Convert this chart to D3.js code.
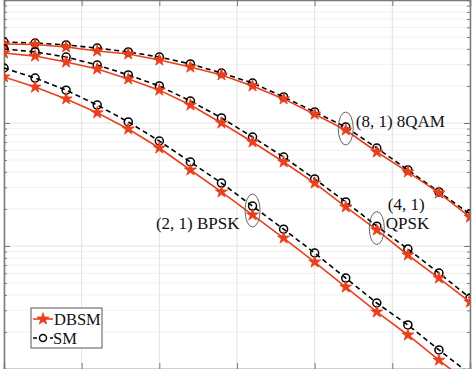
<!DOCTYPE html>
<html><head><meta charset="utf-8">
<script src="https://cdn.jsdelivr.net/npm/d3@7"></script>
<style>html,body{margin:0;padding:0;background:#fff;}svg{display:block;}</style>
</head><body>
<script>
const snr = [0,2,4,6,8,10,12,14,16,18,20,22,24,26,28,30];
const xTicks = [0,5,10,15,20,25,30];
const qam8_DBSM = [0.439,0.435,0.415,0.385,0.364,0.325,0.285,0.246,0.200,0.157,0.118,0.0877,0.0581,0.0400,0.0270,0.0172];
const qam8_SM   = [0.455,0.447,0.431,0.407,0.378,0.344,0.302,0.255,0.211,0.163,0.123,0.0928,0.0626,0.0415,0.0275,0.0182];
const qpsk_DBSM = [0.371,0.350,0.313,0.275,0.228,0.185,0.140,0.100,0.0701,0.0482,0.0325,0.0208,0.0135,0.00845,0.00549,0.00350];
const qpsk_SM   = [0.400,0.378,0.344,0.296,0.246,0.200,0.151,0.110,0.0769,0.0529,0.0351,0.0228,0.0145,0.00945,0.00603,0.00378];
const bpsk_DBSM = [0.237,0.196,0.157,0.121,0.0894,0.0626,0.0415,0.0275,0.0179,0.0116,0.00741,0.00464,0.00291,0.00189,0.00118,0.000755];
const bpsk_SM   = [0.280,0.232,0.185,0.140,0.102,0.0714,0.0482,0.0325,0.0211,0.0137,0.00877,0.00549,0.00344,0.00228,0.00143,0.00091];
const legendLabels = ["DBSM","SM"];
const annotations = [
  {series:"qam8", idx:11, lines:["(8, 1) 8QAM"]},
  {series:"qpsk", idx:12, lines:["(4, 1)","QPSK"]},
  {series:"bpsk", idx:8, lines:["(2, 1) BPSK"]}
];

const W=474,H=369;
const L=4,R=470,T=0,B=369;
const RED="#e8401c";
const svg=d3.select("body").append("svg").attr("width",W).attr("height",H);
const x=d3.scaleLinear().domain([0,30]).range([L,R]);
const y=d3.scaleLog().domain([1,1e-3]).range([T,B]);

const defs=svg.append("defs");
defs.append("clipPath").attr("id","clip").append("rect").attr("x",L).attr("y",T).attr("width",R-L).attr("height",B-T);

// grid
const minorVals=[];
for(let e=-3;e<0;e++){for(let m=1;m<=9;m++){minorVals.push(m*Math.pow(10,e));}}
minorVals.push(1);
const isMajor=d=>Math.abs(Math.log10(d)-Math.round(Math.log10(d)))<1e-9;
const g=svg.append("g");
g.selectAll("line.hm").data(minorVals).join("line")
 .attr("x1",L).attr("x2",R).attr("y1",d=>y(d)).attr("y2",d=>y(d))
 .attr("stroke",d=>isMajor(d)?"#e2e2e2":"#f0f0f0").attr("stroke-width",1);
g.selectAll("line.v").data(xTicks).join("line")
 .attr("x1",d=>x(d)).attr("x2",d=>x(d)).attr("y1",T).attr("y2",B)
 .attr("stroke","#e2e2e2").attr("stroke-width",1);

// axes with inner ticks
const axCol="#7a7a7a";
const yl=svg.append("g").attr("transform",`translate(${L},0)`)
 .call(d3.axisRight(y).tickValues(minorVals).tickSize(3).tickFormat(""));
const yr=svg.append("g").attr("transform",`translate(${R},0)`)
 .call(d3.axisLeft(y).tickValues(minorVals).tickSize(3).tickFormat(""));
const xb=svg.append("g").attr("transform",`translate(0,${B})`)
 .call(d3.axisTop(x).tickValues(xTicks).tickSize(6).tickFormat(""));
const xt=svg.append("g").attr("transform",`translate(0,${T})`)
 .call(d3.axisBottom(x).tickValues(xTicks).tickSize(6).tickFormat(""));
[yl,yr,xb,xt].forEach(a=>{a.selectAll("path").attr("stroke",axCol).attr("stroke-width",1.5);a.selectAll("line").attr("stroke",axCol);});
yl.selectAll(".tick line").attr("x2",d=>isMajor(d)?6:3);
yr.selectAll(".tick line").attr("x2",d=>isMajor(d)?-6:-3);

const plot=svg.append("g").attr("clip-path","url(#clip)");
const line=d3.line().x((d,i)=>x(snr[i])).y(d=>y(d));
const star=d3.symbol().type(d3.symbolStar).size(45);

function drawSM(vals){
  plot.append("path").datum(vals).attr("d",line).attr("fill","none").attr("stroke","#000").attr("stroke-width",1.6).attr("stroke-dasharray","5,3.5");
  plot.append("g").selectAll("circle").data(vals).join("circle")
   .attr("cx",(d,i)=>x(snr[i])).attr("cy",d=>y(d)).attr("r",4).attr("fill","none").attr("stroke","#000").attr("stroke-width",1.5);
}
function drawDBSM(vals){
  plot.append("path").datum(vals).attr("d",line).attr("fill","none").attr("stroke",RED).attr("stroke-width",1.6);
  plot.append("g").selectAll("path").data(vals).join("path")
   .attr("d",star).attr("transform",(d,i)=>`translate(${x(snr[i])},${y(d)})`).attr("fill",RED).attr("stroke",RED).attr("stroke-width",0.8);
}
drawSM(qam8_SM);drawDBSM(qam8_DBSM);
drawSM(qpsk_SM);drawDBSM(qpsk_DBSM);
drawSM(bpsk_SM);drawDBSM(bpsk_DBSM);

// annotations
const seriesMap={qam8:[qam8_SM,qam8_DBSM],qpsk:[qpsk_SM,qpsk_DBSM],bpsk:[bpsk_SM,bpsk_DBSM]};
const font="'Liberation Serif','DejaVu Serif',serif";
annotations.forEach(a=>{
  const [sm,db]=seriesMap[a.series];
  const cx=x(snr[a.idx]);
  const cy=(y(sm[a.idx])+y(db[a.idx]))/2;
  svg.append("ellipse").attr("cx",cx).attr("cy",cy).attr("rx",7.5).attr("ry",16.5).attr("fill","none").attr("stroke","#555").attr("stroke-width",0.9);
  if(a.series==="qam8"){
    svg.append("text").attr("x",cx+10).attr("y",cy-1.5).attr("font-family",font).attr("font-size",17).attr("fill","#111").text(a.lines[0]);
  } else if(a.series==="qpsk"){
    svg.append("text").attr("x",cx+11).attr("y",cy-18).attr("font-family",font).attr("font-size",17).attr("fill","#111").text(a.lines[0]);
    svg.append("text").attr("x",cx+9).attr("y",cy+1).attr("font-family",font).attr("font-size",17).attr("fill","#111").text(a.lines[1]);
  } else {
    svg.append("text").attr("x",cx-13).attr("y",cy+18.5).attr("text-anchor","end").attr("font-family",font).attr("font-size",17).attr("fill","#111").text(a.lines[0]);
  }
});

// legend
const lg=svg.append("g");
lg.append("rect").attr("x",31).attr("y",308).attr("width",71).attr("height",40).attr("fill","#fff").attr("stroke","#444").attr("stroke-width",0.9);
const rows=[319,338];
lg.append("line").attr("x1",33).attr("x2",53).attr("y1",rows[0]).attr("y2",rows[0]).attr("stroke",RED).attr("stroke-width",1.6);
lg.append("path").attr("d",star).attr("transform",`translate(43,${rows[0]})`).attr("fill",RED).attr("stroke",RED).attr("stroke-width",0.8);
lg.append("line").attr("x1",33).attr("x2",53).attr("y1",rows[1]).attr("y2",rows[1]).attr("stroke","#000").attr("stroke-width",1.6).attr("stroke-dasharray","4,4.5");
lg.append("circle").attr("cx",43).attr("cy",rows[1]).attr("r",3.5).attr("fill","#fff").attr("stroke","#000").attr("stroke-width",1.5);
legendLabels.forEach((t,i)=>{
  lg.append("text").attr("x",i===0?54:53).attr("y",rows[i]+5.5).attr("font-family",font).attr("font-size",16.5).attr("fill","#111").text(t);
});
</script>
</body></html>
